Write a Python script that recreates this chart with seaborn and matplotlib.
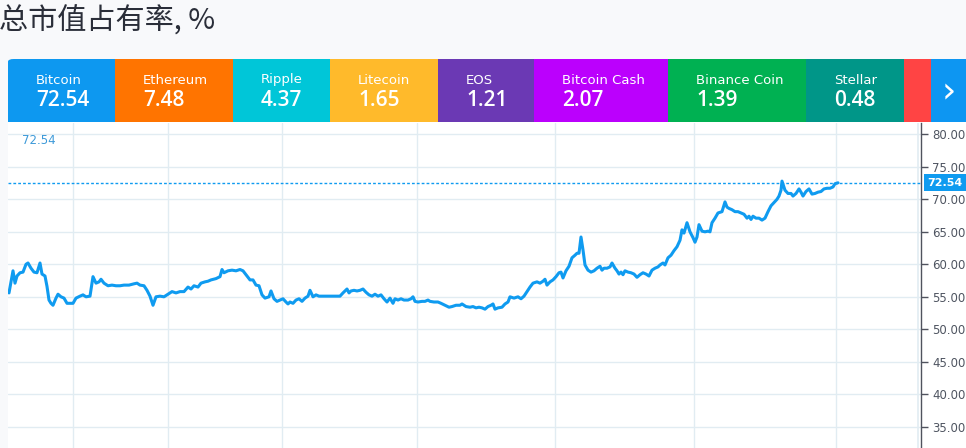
# Bitcoin market-cap dominance chart (TradingView style)
import numpy as np
import pandas as pd
import matplotlib
matplotlib.use("Agg")
import matplotlib.pyplot as plt
import seaborn as sns
from matplotlib.patches import Rectangle, FancyBboxPatch

# Tab bar data
coins = ["Bitcoin", "Ethereum", "Ripple", "Litecoin", "EOS",
         "Bitcoin Cash", "Binance Coin", "Stellar"]
shares = [72.54, 7.48, 4.37, 1.65, 1.21, 2.07, 1.39, 0.48]
tab_colors = ["#0d98f0", "#ff7400", "#00c6d8", "#ffba2b", "#6b39b4",
              "#bb00fd", "#00b152", "#009688"]

# Bitcoin share of total market cap, %
day = [9, 13, 15, 17, 20, 23, 26, 28, 31, 34, 37, 40, 42, 45, 47, 49, 51, 53, 56, 58,
       61, 64, 67, 70, 73, 76, 80, 83, 86, 90, 93, 96, 99, 101, 104, 108, 112, 116, 120, 124,
       129, 134, 137, 140, 144, 147, 150, 153, 156, 160, 164, 168, 172, 176, 180, 184, 188, 191, 194, 198,
       201, 205, 208, 211, 216, 220, 222, 224, 228, 232, 236, 240, 243, 246, 250, 253, 256, 259, 262, 265,
       269, 271, 274, 277, 280, 283, 286, 288, 290, 293, 296, 299, 302, 305, 308, 310, 313, 316, 319, 322,
       330, 336, 340, 343, 345, 347, 349, 351, 354, 357, 360, 363, 366, 369, 372, 375, 378, 381, 384, 387,
       390, 393, 395, 398, 401, 404, 408, 411, 413, 415, 418, 422, 425, 428, 430, 434, 438, 441, 445, 449,
       452, 456, 460, 462, 466, 470, 473, 476, 479, 482, 485, 488, 491, 493, 495, 498, 502, 505, 508, 510,
       514, 518, 521, 524, 527, 530, 533, 537, 540, 543, 545, 547, 550, 553, 556, 559, 561, 563, 566, 569,
       572, 575, 577, 579, 581, 583, 585, 588, 591, 594, 597, 600, 602, 604, 607, 610, 612, 615, 617, 619,
       621, 623, 625, 628, 631, 634, 637, 640, 643, 646, 649, 652, 655, 658, 660, 663, 665, 668, 671, 674,
       677, 680, 682, 684, 687, 690, 693, 695, 697, 699, 702, 705, 708, 710, 712, 715, 718, 722, 725, 727,
       729, 732, 735, 738, 741, 744, 747, 749, 751, 753, 756, 759, 762, 765, 768, 771, 774, 777, 779, 781,
       782, 785, 788, 791, 793, 796, 799, 801, 803, 806, 809, 812, 815, 818, 821, 824, 827, 830, 833, 835,
       838]
btc = [55.6, 59.0, 57.1, 58.2, 58.7, 58.8, 60.0, 60.2, 59.4, 58.8, 58.7, 60.2, 58.5, 58.2, 56.6, 54.5, 54.0, 53.7, 54.8, 55.4,
       55.0, 54.8, 54.0, 54.0, 54.0, 54.8, 55.1, 55.3, 55.0, 55.1, 58.1, 57.1, 57.3, 57.7, 57.1, 56.7, 56.8, 56.7, 56.7, 56.8,
       56.8, 57.0, 57.1, 56.8, 56.7, 56.0, 55.1, 53.7, 55.0, 55.1, 55.0, 55.4, 55.8, 55.6, 55.8, 55.8, 56.5, 56.2, 56.7, 56.5,
       57.1, 57.3, 57.4, 57.6, 57.8, 58.1, 59.2, 58.7, 59.0, 59.1, 59.0, 59.2, 59.0, 58.4, 57.6, 57.6, 56.8, 56.7, 55.3, 54.8,
       55.0, 55.9, 54.7, 54.3, 54.5, 54.7, 54.2, 53.9, 54.2, 54.0, 54.5, 54.7, 54.3, 54.8, 55.1, 56.0, 55.0, 55.3, 55.1, 55.1,
       55.1, 55.1, 55.1, 55.6, 55.9, 56.2, 55.6, 55.9, 56.0, 55.9, 56.0, 56.2, 55.7, 55.3, 55.1, 55.4, 55.1, 55.3, 54.7, 54.2,
       54.8, 54.0, 54.7, 54.5, 54.7, 54.5, 54.5, 54.7, 55.0, 54.3, 54.2, 54.3, 54.3, 54.5, 54.3, 54.2, 54.2, 54.0, 53.7, 53.4,
       53.5, 53.7, 53.7, 53.9, 53.5, 53.4, 53.5, 53.3, 53.4, 53.3, 53.1, 53.5, 53.7, 53.9, 53.1, 53.3, 53.4, 53.9, 54.2, 55.0,
       54.8, 55.0, 54.7, 55.1, 55.8, 56.5, 57.1, 57.3, 57.1, 57.4, 57.7, 56.8, 57.3, 57.6, 58.1, 58.7, 58.8, 57.9, 59.0, 59.7,
       61.0, 61.4, 61.7, 61.7, 64.2, 62.2, 59.9, 59.1, 58.8, 59.0, 59.4, 59.7, 59.1, 59.4, 59.4, 59.6, 60.2, 59.4, 59.0, 58.5,
       58.8, 58.4, 59.0, 58.8, 58.7, 58.5, 58.0, 58.4, 58.7, 58.5, 58.2, 59.1, 59.4, 59.6, 59.9, 60.2, 59.9, 61.0, 61.4, 62.1,
       62.7, 63.7, 65.3, 64.8, 66.4, 65.0, 64.1, 63.4, 64.2, 66.1, 65.1, 65.0, 65.1, 65.0, 66.4, 67.1, 67.9, 68.1, 69.6, 68.8,
       68.6, 68.4, 68.1, 68.1, 67.9, 67.7, 67.1, 67.4, 66.9, 67.4, 67.1, 67.1, 66.8, 67.1, 68.1, 69.0, 69.5, 70.0, 70.5, 71.4,
       72.8, 71.4, 70.9, 70.9, 70.5, 70.9, 71.6, 71.1, 70.5, 71.2, 71.6, 70.8, 70.9, 71.1, 71.2, 71.6, 71.7, 71.7, 71.9, 72.4,
       72.54]
last_value = 72.54
y_ticks = [35, 40, 45, 50, 55, 60, 65, 70, 75, 80]
x_grid = [73, 168, 282, 417, 555, 694, 836]

df = pd.DataFrame({"day": day, "share": btc})

LINE = "#0f9bf0"
W, H = 966, 448

sns.set_style("white")
plt.rcParams["font.family"] = ["DejaVu Sans", "Noto Sans CJK SC"]

fig = plt.figure(figsize=(W / 100, H / 100), dpi=100, facecolor="#f8f9fb")


def fx(px):
    return px / W


def fy(py):
    return 1 - py / H


# White chart panel behind the axes and price scale
fig.patches.append(Rectangle((fx(8), 0), fx(958), fy(122), transform=fig.transFigure,
                             facecolor="white", edgecolor="none", zorder=-5))

# Title
fig.text(fx(-1), fy(21), "总市值占有率, %", fontsize=21, color="#2a2e39", va="center",
         family=["Noto Sans CJK SC", "DejaVu Sans"])

# Tabs
edges = [8, 115, 233, 330, 438, 534, 668, 806, 904]
for i, (name, val, col) in enumerate(zip(coins, shares, tab_colors)):
    x0, x1 = edges[i], edges[i + 1]
    if i == 0:
        fig.patches.append(FancyBboxPatch((fx(x0), fy(122)), fx(x1 - x0), fy(59) - fy(122),
                                          boxstyle="round,pad=0,rounding_size=0.006",
                                          transform=fig.transFigure, facecolor=col,
                                          edgecolor="none", zorder=1))
        fig.patches.append(Rectangle((fx(x0 + 10), fy(122)), fx(x1 - x0 - 10), fy(59) - fy(122),
                                     transform=fig.transFigure, facecolor=col,
                                     edgecolor="none", zorder=1))
        fig.patches.append(Rectangle((fx(x0), fy(122)), fx(x1 - x0), fy(70) - fy(122),
                                     transform=fig.transFigure, facecolor=col,
                                     edgecolor="none", zorder=1))
    else:
        fig.patches.append(Rectangle((fx(x0), fy(122)), fx(x1 - x0), fy(59) - fy(122),
                                     transform=fig.transFigure, facecolor=col,
                                     edgecolor="none", zorder=1))
    fig.text(fx(x0 + 28), fy(80), name, fontsize=9.5, color="white", va="center", zorder=2)
    fig.text(fx(x0 + 28), fy(100), f"{val:.2f}", fontsize=15, color="white",
             family=["Open Sans", "DejaVu Sans"], fontweight="semibold",
             va="center", zorder=2)

fig.patches.append(Rectangle((fx(904), fy(122)), fx(27), fy(59) - fy(122),
                             transform=fig.transFigure, facecolor="#ff4444",
                             edgecolor="none", zorder=1))
fig.patches.append(Rectangle((fx(931), fy(122)), fx(35), fy(59) - fy(122),
                             transform=fig.transFigure, facecolor="#0d96f2",
                             edgecolor="none", zorder=1))
fig.text(fx(949), fy(92), "›", fontsize=26, color="white", ha="center", va="center", zorder=2)

# Chart
ax = fig.add_axes([fx(8), 0, fx(913), fy(123)])
ax.set_zorder(3)
ax.set_facecolor("white")
sns.lineplot(data=df, x="day", y="share", ax=ax, color=LINE, linewidth=2.2, zorder=3)

ax.set_xlim(8, 921)
ax.set_ylim(31.74, 81.74)
ax.set_xticks(x_grid)
ax.set_xticklabels([])
ax.tick_params(axis="x", length=0)
ax.set_yticks(y_ticks)
ax.yaxis.tick_right()
ax.set_yticklabels([f"{v:.2f}" for v in y_ticks])
ax.tick_params(axis="y", direction="out", length=5, width=1, color="#50535e",
               labelsize=8.5, labelcolor="#4f5561", pad=3)
ax.grid(True, color="#e1ecf2", linewidth=1)
ax.set_axisbelow(True)
ax.set_xlabel("")
ax.set_ylabel("")
for side in ["top", "left", "bottom"]:
    ax.spines[side].set_visible(False)
ax.spines["right"].set_color("#50535e")
ax.spines["right"].set_linewidth(1)
ax.axvline(918, color="#e1ecf2", linewidth=1.2, zorder=1)

# Last value marker line and labels
ax.axhline(last_value, color=LINE, linewidth=1, linestyle=(0, (2, 1.5)), zorder=2)
ax.annotate(f"{last_value:.2f}", xy=(1, last_value), xycoords=("axes fraction", "data"),
            xytext=(4.5, 0), textcoords="offset points", va="center", ha="left",
            fontsize=8, fontweight="bold", color="white", annotation_clip=False,
            bbox=dict(boxstyle="square,pad=0.3", facecolor=LINE, edgecolor="none"))
fig.text(fx(22), fy(141), f"{last_value:.2f}", fontsize=8.5, color="#3d9ad9", va="center")

fig.savefig("out.png", dpi=100, facecolor=fig.get_facecolor())
